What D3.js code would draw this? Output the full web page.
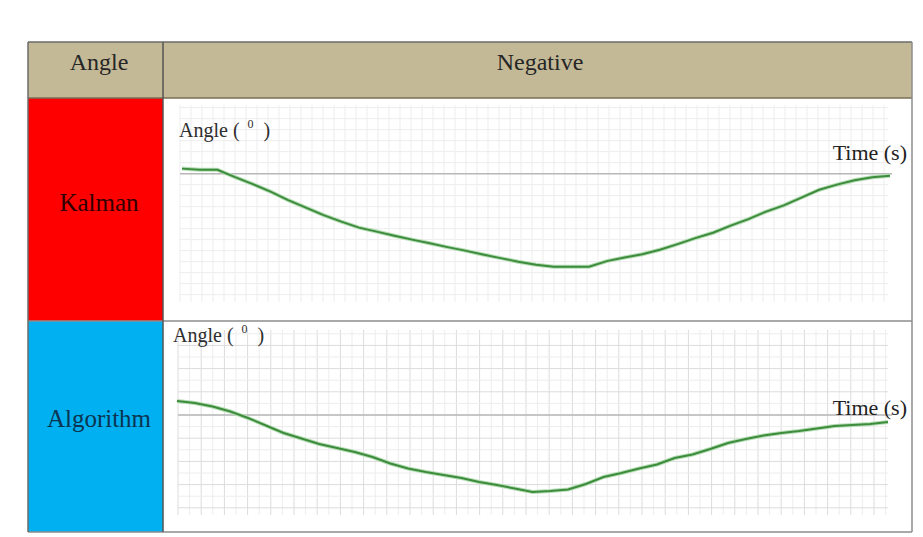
<!DOCTYPE html>
<html>
<head>
<meta charset="utf-8">
<script src="https://cdn.jsdelivr.net/npm/d3@7"></script>
<style>
  body { margin: 0; background: #fff; }
  svg { display: block; }
  text { font-family: "Liberation Serif", "DejaVu Serif", serif; }
</style>
</head>
<body>
<svg id="chart"></svg>
<script>
const width = 923;
const height = 537;

// row / column labels of the table
const headers = ['Angle', 'Negative'];
const methods = ['Kalman', 'Algorithm'];
const methodColors = ['#ff0000', '#00b0f0'];
const methodTextColors = ['#300000', '#0b3550'];

// time samples (s), shared by both traces
const time = d3.range(0, 41).map(i => i * 0.25);

// angle (deg)
const kalman = [
  1.7, 1.3, 1.3, -1.2, -3.5, -6.0, -8.9, -11.4, -13.9, -16.1,
  -18.1, -19.4, -20.8, -22.1, -23.3, -24.6, -25.8, -27.1, -28.3, -29.5,
  -30.5, -31.2, -31.2, -31.2, -29.3, -28.1, -27.0, -25.5, -23.6, -21.6,
  -19.8, -17.4, -15.2, -12.7, -10.6, -8.0, -5.4, -3.7, -2.2, -1.2, -0.7
];

// angle (deg)
const algorithm = [
  5.6, 4.8, 3.4, 1.4, -1.2, -4.2, -7.2, -9.4, -11.6, -13.2,
  -14.8, -16.8, -19.4, -21.4, -22.8, -24.0, -25.2, -26.8, -28.0, -29.4,
  -30.8, -30.4, -29.8, -27.6, -24.8, -23.2, -21.4, -19.8, -17.2, -15.8,
  -13.6, -11.2, -9.6, -8.2, -7.2, -6.4, -5.4, -4.4, -4.0, -3.6, -2.8
];

const table = { left: 28, right: 912, top: 42, head: 98, mid: 321, bottom: 532, split: 163 };

const svg = d3.select('#chart').attr('width', width).attr('height', height);

svg.append('rect')
  .attr('x', 0).attr('y', 0).attr('width', width).attr('height', height)
  .attr('fill', '#fff');

// header band
svg.append('rect')
  .attr('x', table.left).attr('y', table.top)
  .attr('width', table.right - table.left).attr('height', table.head - table.top)
  .attr('fill', '#c4b996');

// left colour cells
const rowTops = [table.head, table.mid];
const rowBottoms = [table.mid, table.bottom];
svg.append('g').selectAll('rect').data(methods).enter()
  .append('rect')
  .attr('x', table.left)
  .attr('y', (d, i) => rowTops[i])
  .attr('width', table.split - table.left)
  .attr('height', (d, i) => rowBottoms[i] - rowTops[i])
  .attr('fill', (d, i) => methodColors[i]);

// panels: one per method
const panels = [
  { data: kalman, x0: 182, x1: 890, gx0: 180, gx1: 888, gy0: 105, gy1: 302,
    yDomain: [-43, 23], step: 11, label: [179, 137], time: [907, 160] },
  { data: algorithm, x0: 177, x1: 888, gx0: 178, gx1: 888, gy0: 330, gy1: 515,
    yDomain: [-40, 34], step: 11.6, label: [173, 342], time: [907, 415] }
];

panels.forEach((p, idx) => {
  const x = d3.scaleLinear().domain([0, 10]).range([p.x0, p.x1]);
  const y = d3.scaleLinear().domain(p.yDomain).range([p.gy1, p.gy0]);
  const g = svg.append('g').classed('panel', true);
  const zero = y(0);

  // grid, anchored on the zero line
  const vLines = d3.range(p.gx0, p.gx1 + 0.1, p.step);
  const hLines = d3.range(zero, p.gy0 - 0.1, -p.step).concat(d3.range(zero + p.step, p.gy1 + 0.1, p.step));

  g.append('g').selectAll('line').data(vLines).enter()
    .append('line')
    .attr('x1', d => d).attr('x2', d => d)
    .attr('y1', p.gy0).attr('y2', p.gy1)
    .attr('stroke', (d, i) => (idx === 1 && i % 2 === 0) ? '#dcdcdc' : '#ededed')
    .attr('stroke-width', 1);

  g.append('g').selectAll('line').data(hLines).enter()
    .append('line')
    .attr('x1', p.gx0).attr('x2', p.gx1)
    .attr('y1', d => d).attr('y2', d => d)
    .attr('stroke', d => (idx === 1 && Math.round((d - zero) / p.step) % 2 === 0) ? '#dcdcdc' : '#ededed')
    .attr('stroke-width', 1);

  // zero axis
  g.append('line')
    .attr('x1', p.gx0).attr('x2', p.gx1 + 4)
    .attr('y1', zero).attr('y2', zero)
    .attr('stroke', '#b8b8b8')
    .attr('stroke-width', 1.5);

  const line = d3.line()
    .x((d, i) => x(time[i]))
    .y(d => y(d));

  g.append('path')
    .datum(p.data)
    .attr('d', line)
    .attr('fill', 'none')
    .attr('stroke', '#b5dcb5')
    .attr('stroke-width', 4);

  g.append('path')
    .datum(p.data)
    .attr('d', line)
    .attr('fill', 'none')
    .attr('stroke', '#3c8c3c')
    .attr('stroke-width', 1.9);

  const lab = g.append('text')
    .attr('x', p.label[0]).attr('y', p.label[1])
    .attr('font-size', 20).attr('fill', '#2e2e2e');
  lab.append('tspan').text('Angle ( ');
  lab.append('tspan').attr('font-size', 12).attr('dy', -9).attr('dx', 3).text('0');
  lab.append('tspan').attr('dy', 9).attr('dx', 5).text(' )');

  g.append('text')
    .attr('x', p.time[0]).attr('y', p.time[1])
    .attr('text-anchor', 'end')
    .attr('font-size', 22).attr('fill', '#222')
    .text('Time (s)');
});

// table rules
const rules = [
  [table.left, table.top, table.right, table.top, '#6b6b6b'],
  [table.left, table.head, table.right, table.head, '#7a6f55'],
  [table.left, table.mid, table.right, table.mid, '#8c8c8c'],
  [table.left, table.bottom, table.right, table.bottom, '#8c8c8c'],
  [table.left, table.top, table.left, table.bottom, '#6b6b6b'],
  [table.split, table.top, table.split, table.bottom, '#555'],
  [table.right, table.top, table.right, table.bottom, '#8c8c8c']
];
svg.append('g').selectAll('line').data(rules).enter()
  .append('line')
  .attr('x1', d => d[0]).attr('y1', d => d[1])
  .attr('x2', d => d[2]).attr('y2', d => d[3])
  .attr('stroke', d => d[4])
  .attr('stroke-width', 1.5);

// header texts
const headerX = [99, 540];
svg.append('g').selectAll('text').data(headers).enter()
  .append('text')
  .attr('x', (d, i) => headerX[i])
  .attr('y', 70)
  .attr('text-anchor', 'middle')
  .attr('font-size', 24)
  .attr('fill', '#262626')
  .text(d => d);

// method texts
svg.append('g').selectAll('text').data(methods).enter()
  .append('text')
  .attr('x', [99, 99][0])
  .attr('y', (d, i) => [211, 427][i])
  .attr('text-anchor', 'middle')
  .attr('font-size', 25)
  .attr('fill', (d, i) => methodTextColors[i])
  .text(d => d);
</script>
</body>
</html>
